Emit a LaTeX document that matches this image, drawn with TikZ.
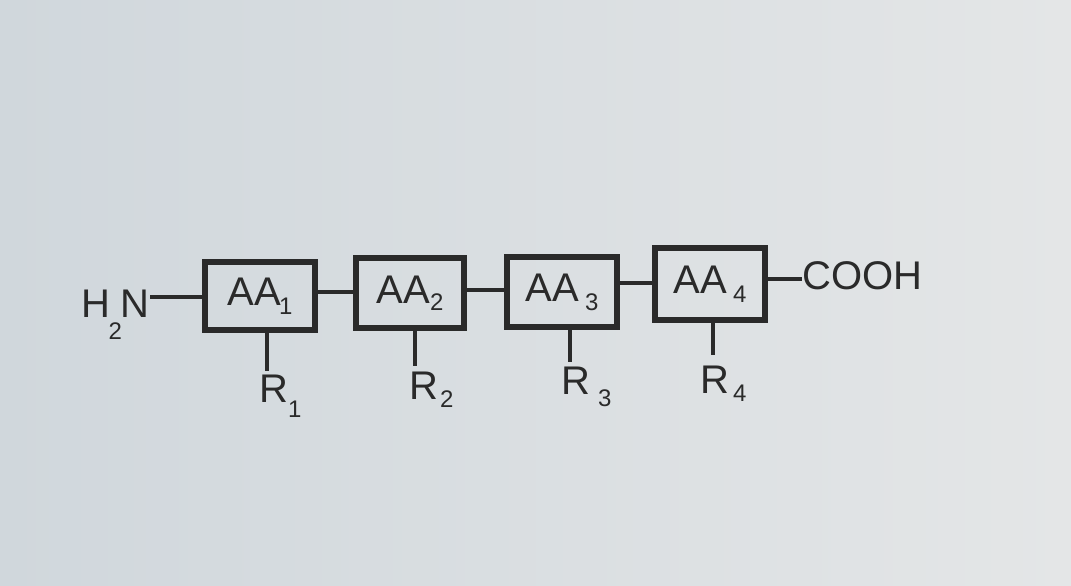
\documentclass[tikz,border=0pt]{standalone}
\usepackage{fontspec}
\setmainfont{Liberation Sans}
\definecolor{ink}{HTML}{2A2A2A}
\definecolor{bgA}{HTML}{D0D7DC}
\definecolor{bgB}{HTML}{E4E6E7}
\newcommand{\mysub}[3]{\kern#1pt\raisebox{-#2pt}{\fontsize{24}{24}\selectfont #3}}
\begin{document}
\begin{tikzpicture}[x=1pt,y=-1pt,
  txt/.style={font=\fontsize{40}{40}\selectfont, text=ink, inner sep=0pt},
  aabox/.style={draw=ink, line width=5.5pt, minimum width=110pt, minimum height=70pt, inner sep=0pt, font=\fontsize{40}{40}\selectfont, text=ink},
  bond/.style={draw=ink, line width=4.5pt}]
\shade[left color=bgA, right color=bgB] (0,0) rectangle (1071,586);
\useasboundingbox (0,0) rectangle (1071,586);
% boxes
\node[aabox, minimum height=68pt] (b1) at (260,296) {AA\mysub{-2}{9}{1}};
\node[aabox, minimum width=108pt] (b2) at (410,293) {AA\mysub{0}{7}{2}};
\node[aabox] (b3) at (562,292) {AA\mysub{6}{9}{3}};
\node[aabox, minimum height=72pt] (b4) at (710,284) {AA\mysub{6}{9}{4}};
% ends
\node[txt, anchor=base east] (n) at (150,317) {H\mysub{-2}{22}{2}\kern-1pt N};
\node[txt, anchor=west] (c) at (802,276) {COOH};
% backbone levels
\coordinate (l0) at (0,297);
\coordinate (l1) at (0,292);
\coordinate (l2) at (0,290);
\coordinate (l3) at (0,283);
\coordinate (l4) at (0,279);
\draw[bond] (n.east |- l0) -- (b1.west |- l0);
\draw[bond] (b1.east |- l1) -- (b2.west |- l1);
\draw[bond] (b2.east |- l2) -- (b3.west |- l2);
\draw[bond] (b3.east |- l3) -- (b4.west |- l3);
\draw[bond] (b4.east |- l4) -- (c.west |- l4);
% side chains
\coordinate (s1) at (267,371);
\coordinate (s2) at (415,366);
\coordinate (s3) at (570,362);
\coordinate (s4) at (713,355);
\draw[bond] (s1 |- b1.south) -- (s1);
\draw[bond] (s2 |- b2.south) -- (s2);
\draw[bond] (s3 |- b3.south) -- (s3);
\draw[bond] (s4 |- b4.south) -- (s4);
\node[txt, anchor=north west] (r1) at (259,375) {R\mysub{0}{15}{1}};
\node[txt, anchor=north west] (r2) at (409,372) {R\mysub{2}{8}{2}};
\node[txt, anchor=north west] (r3) at (561,367) {R\mysub{8}{12}{3}};
\node[txt, anchor=north west] (r4) at (700,366) {R\mysub{4}{8}{4}};
\end{tikzpicture}
\end{document}
